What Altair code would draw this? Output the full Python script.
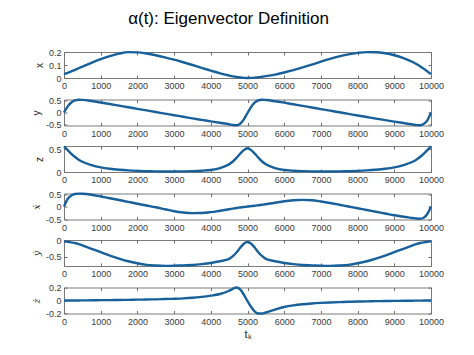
import altair as alt
import pandas as pd

# time grid (samples)
T = [0, 100, 200, 300, 400, 500, 750, 1000, 1250, 1500, 1750, 2000, 2250, 2500, 2750,
     3000, 3250, 3500, 3750, 4000, 4250, 4500, 4600, 4700, 4800, 4900, 5000, 5100,
     5200, 5300, 5400, 5500, 5750, 6000, 6250, 6500, 6750, 7000, 7250, 7500, 7750,
     8000, 8250, 8500, 8750, 9000, 9250, 9500, 9600, 9700, 9800, 9900, 10000]

X = [0.030, 0.040, 0.051, 0.063, 0.075, 0.087, 0.117, 0.145, 0.168, 0.187, 0.199, 0.197,
     0.188, 0.175, 0.159, 0.141, 0.121, 0.100, 0.078, 0.057, 0.036, 0.019, 0.013, 0.008,
     0.004, 0.001, 0.000, 0.001, 0.003, 0.006, 0.010, 0.014, 0.026, 0.042, 0.060, 0.081,
     0.103, 0.126, 0.147, 0.166, 0.182, 0.193, 0.199, 0.198, 0.190, 0.175, 0.153, 0.123,
     0.108, 0.091, 0.072, 0.051, 0.030]

Y = [0.0, 0.25, 0.41, 0.49, 0.52, 0.515, 0.47, 0.41, 0.345, 0.28, 0.215, 0.15, 0.085,
     0.02, -0.045, -0.11, -0.175, -0.24, -0.30, -0.36, -0.42, -0.48, -0.51, -0.52, -0.46,
     -0.28, -0.02, 0.23, 0.41, 0.50, 0.52, 0.51, 0.46, 0.40, 0.335, 0.27, 0.205, 0.14,
     0.075, 0.01, -0.055, -0.12, -0.185, -0.25, -0.31, -0.37, -0.43, -0.49, -0.515,
     -0.52, -0.47, -0.32, 0.0]

Z = [0.56, 0.48, 0.40, 0.33, 0.27, 0.225, 0.15, 0.10, 0.07, 0.05, 0.035, 0.025, 0.018,
     0.013, 0.011, 0.011, 0.014, 0.019, 0.028, 0.045, 0.085, 0.17, 0.23, 0.31, 0.40,
     0.48, 0.52, 0.48, 0.40, 0.31, 0.23, 0.17, 0.085, 0.045, 0.028, 0.019, 0.014, 0.011,
     0.011, 0.013, 0.018, 0.025, 0.035, 0.05, 0.07, 0.10, 0.15, 0.225, 0.27, 0.33, 0.40,
     0.48, 0.56]

XD = [0.0, 0.30, 0.44, 0.50, 0.515, 0.51, 0.47, 0.40, 0.33, 0.26, 0.185, 0.11, 0.04,
      -0.03, -0.11, -0.19, -0.24, -0.265, -0.26, -0.225, -0.17, -0.11, -0.085, -0.06,
      -0.04, -0.02, 0.0, 0.015, 0.03, 0.05, 0.07, 0.09, 0.15, 0.21, 0.25, 0.265, 0.25,
      0.20, 0.14, 0.07, 0.0, -0.07, -0.14, -0.21, -0.28, -0.35, -0.41, -0.46, -0.48,
      -0.49, -0.45, -0.30, 0.0]

YD = [-0.04, -0.05, -0.07, -0.09, -0.12, -0.16, -0.26, -0.36, -0.46, -0.55, -0.63,
      -0.69, -0.735, -0.755, -0.765, -0.76, -0.75, -0.74, -0.715, -0.68, -0.63, -0.56,
      -0.48, -0.37, -0.23, -0.11, -0.06, -0.11, -0.23, -0.37, -0.48, -0.56, -0.63, -0.68,
      -0.715, -0.74, -0.75, -0.76, -0.765, -0.755, -0.735, -0.69, -0.63, -0.55, -0.46,
      -0.36, -0.26, -0.16, -0.12, -0.09, -0.07, -0.05, -0.04]

ZD = [0.0, 0.0, 0.001, 0.001, 0.001, 0.002, 0.003, 0.005, 0.006, 0.008, 0.010, 0.013,
      0.015, 0.018, 0.022, 0.027, 0.033, 0.042, 0.056, 0.075, 0.10, 0.15, 0.18, 0.20,
      0.17, 0.09, -0.01, -0.10, -0.17, -0.20, -0.20, -0.185, -0.14, -0.10, -0.075,
      -0.058, -0.046, -0.037, -0.030, -0.025, -0.020, -0.016, -0.013, -0.010, -0.008,
      -0.006, -0.004, -0.003, -0.002, -0.002, -0.001, 0.0, 0.0]

X_TICKS = [0, 1000, 2000, 3000, 4000, 5000, 6000, 7000, 8000, 9000, 10000]

PANELS = [
    ("x", X, [0, 0.2], [0, 0.1, 0.2], False),
    ("y", Y, [-0.53, 0.53], [-0.5, 0, 0.5], False),
    ("z", Z, [0, 0.57], [0, 0.5], False),
    ("ẋ", XD, [-0.52, 0.52], [-0.5, 0, 0.5], True),
    ("ẏ", YD, [-0.77, 0], [-0.5, 0], True),
    ("ż", ZD, [-0.2, 0.2], [-0.2, 0, 0.2], True),
]

LINE = "#18609a"
W, H = 367, 26


def panel(name, vals, dom, ticks, italic, last):
    df = pd.DataFrame({"t": T, "v": vals})
    xs = alt.Scale(domain=[0, 10000], nice=False, zero=False)
    ys = alt.Scale(domain=dom, nice=False, zero=False)
    xb = dict(orient="bottom", values=X_TICKS, format="d", offset=-3, tickSize=3,
              domain=False, grid=False, labelPadding=3.5, labelFlush=False)
    if last:
        x_axis = alt.Axis(title="tₖ", titlePadding=2, titleFontSize=11, **xb)
    else:
        x_axis = alt.Axis(title=None, **xb)
    yb = dict(orient="left", values=ticks, offset=-3, tickSize=3, domain=False,
              grid=False, labelPadding=3, labelExpr="'' + datum.value", title=name,
              titlePadding=4)
    if italic:
        y_axis = alt.Axis(titleFont="DejaVu Serif", titleFontStyle="italic",
                          titleFontSize=9, **yb)
    else:
        y_axis = alt.Axis(titleFontSize=10, **yb)
    line = alt.Chart(df).mark_line(color=LINE, strokeWidth=2.4,
                                   interpolate="monotone").encode(
        x=alt.X("t:Q", scale=xs, axis=x_axis),
        y=alt.Y("v:Q", scale=ys, axis=y_axis),
    )
    ghost = alt.Chart(df).mark_line(opacity=0).encode(
        x=alt.X("t:Q", scale=xs,
                axis=alt.Axis(orient="top", values=X_TICKS, labels=False, offset=-3,
                              tickSize=3, domain=False, grid=False, title=None)),
        y=alt.Y("v:Q", scale=ys,
                axis=alt.Axis(orient="right", values=ticks, labels=False, offset=-3,
                              tickSize=3, domain=False, grid=False, title=None)),
    )
    return alt.layer(line, ghost).resolve_axis(x="independent", y="independent") \
        .properties(width=W, height=H)


charts = [panel(n, v, d, t, it, i == len(PANELS) - 1)
          for i, (n, v, d, t, it) in enumerate(PANELS)]

chart = alt.vconcat(*charts, spacing=2.5).properties(
    title=alt.TitleParams("α(t): Eigenvector Definition", fontSize=17,
                          font="Liberation Sans", fontWeight="normal", color="#000000",
                          anchor="middle", offset=19, dx=-9),
    padding={"left": 30, "top": 9, "right": 0, "bottom": 0},
    background="white",
).configure_view(stroke="#7a7a7a", strokeWidth=1).configure_axis(
    labelFont="Liberation Sans", labelFontSize=9, labelColor="#3a3a3a",
    tickColor="#6e6e6e", tickWidth=1, titleFont="Liberation Sans",
    titleFontWeight="normal", titleColor="#262626",
)

chart.save("out.html", embed_options={"renderer": "svg", "actions": False})
